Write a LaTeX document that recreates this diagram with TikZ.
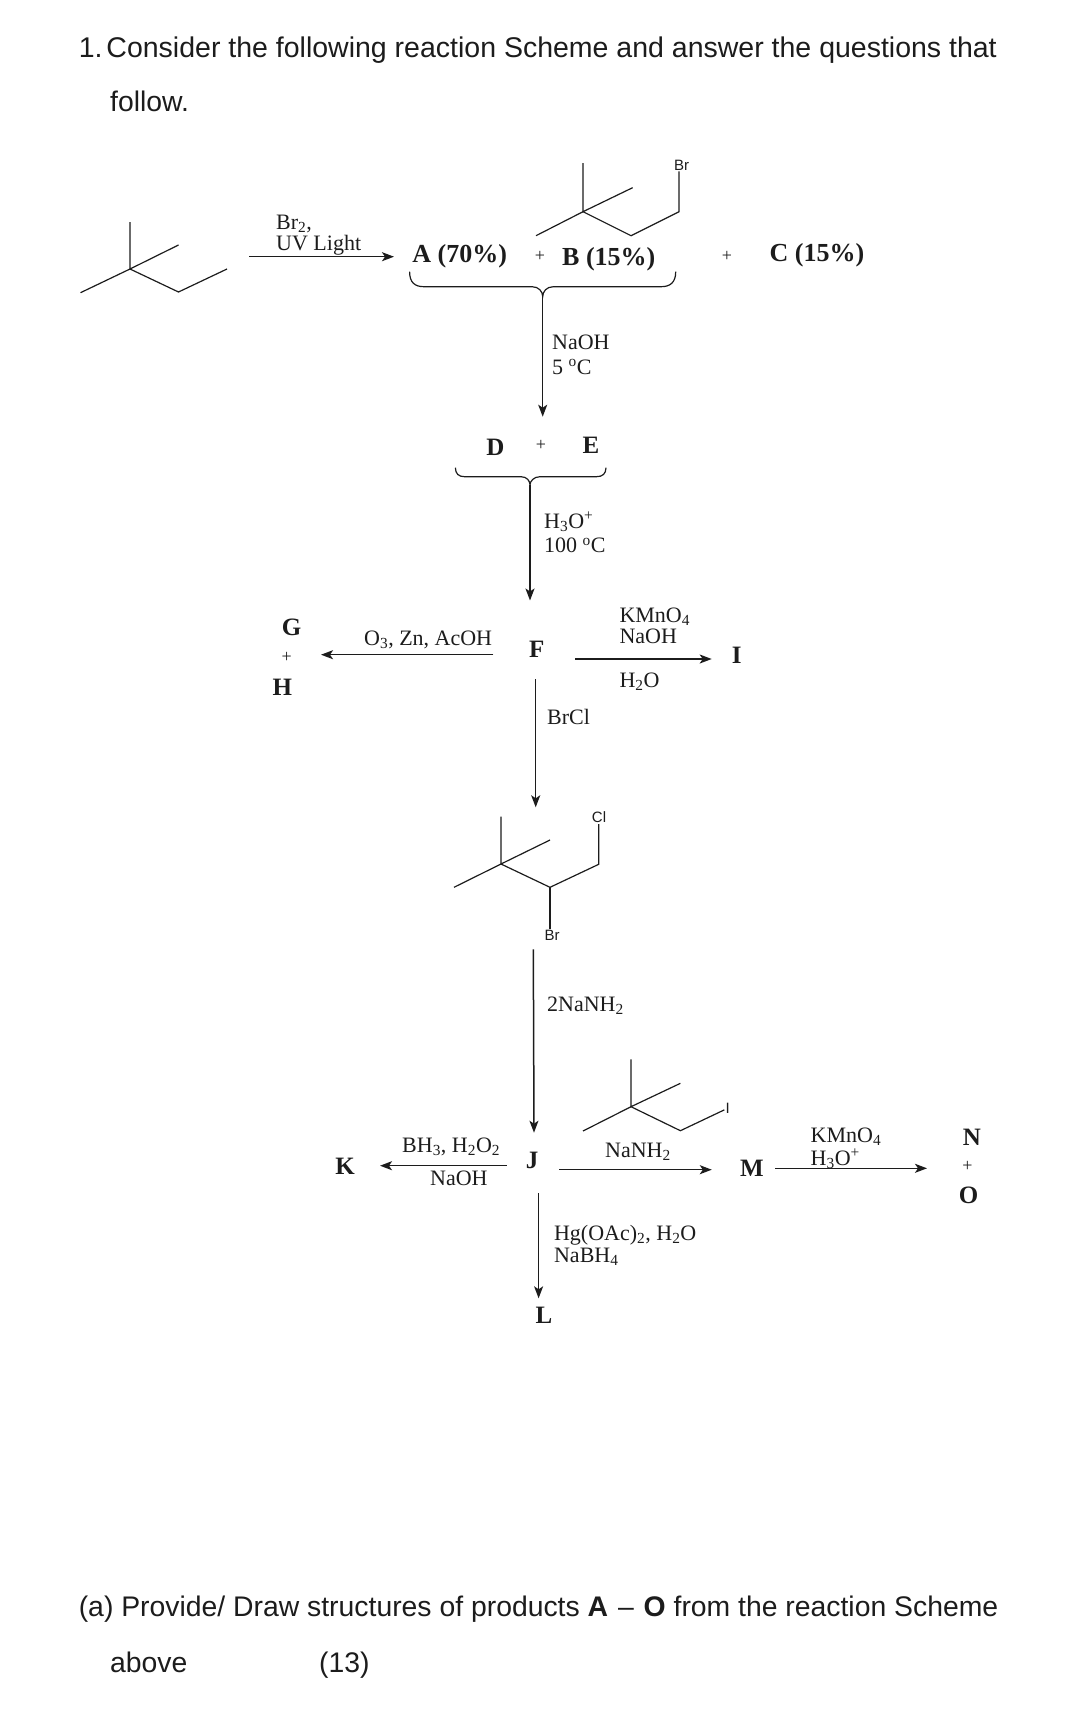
\documentclass[tikz,border=0pt]{standalone}
\usepackage{xcolor}
\usepackage{fontspec}
\usepackage{tikz}
\usetikzlibrary{calc}
\usetikzlibrary{arrows.meta}
\setmainfont{Liberation Sans}
\newfontfamily\chemfont{Liberation Serif}
\definecolor{inkdark}{HTML}{1c1c1c}
\tikzset {
  % question text above and below the scheme
  question/.style = {font=\fontsize{28.35}{30}\selectfont, inner sep=0pt, anchor=base west, text=inkdark},
  % reagents written on the reaction arrows
  reagent/.style = {font=\chemfont\fontsize{22}{24}\selectfont, inner sep=0pt, anchor=base west, text=inkdark},
  % bold product letters
  product/.style = {font=\chemfont\bfseries\fontsize{25}{27}\selectfont, inner sep=0pt, text=inkdark},
  yieldlabel/.style = {product, font=\chemfont\bfseries\fontsize{26}{28}\selectfont},
  plus/.style = {font=\chemfont\fontsize{18}{20}\selectfont, inner sep=0pt, text=inkdark},
  % atom labels on the skeletal formulas
  atom/.style = {font=\fontsize{15}{16}\selectfont, inner sep=1pt, text=inkdark},
  bond/.style = {inkdark, line width=1.2pt},
  rxn/.style = {inkdark, line width=1.5pt, -{Stealth[length=12pt,width=9pt,inset=3pt]}},
}
\begin{document}
\begin{tikzpicture}[x=1pt, y=-1pt]
  \useasboundingbox (0,0) rectangle (1080,1713);

  \node[question, font=\fontsize{28.5}{30}\selectfont] (q1) at (78.6,57) {1.\kern-4pt\ Consider the following reaction Scheme and answer the questions that};
  \node[question] (q2) at (110,111) {follow.};
  \node[question] (q3) at (78.6,1616) {(a) Provide/ Draw structures of products \textbf{A} \kern2pt-- \kern2pt\textbf{O} from the reaction Scheme};
  \node[question] (q4) at (110,1672) {above};
  \node[question] (q5) at (319,1672) {(13)};

  % products
  \node[yieldlabel] (A) at (459.7,256) {A (70\%)};
  \node[plus] (pab) at (540,256) {+};
  \node[yieldlabel] (B) at (608.8,259) {B (15\%)};
  \node[plus] (pbc) at (727,256) {+};
  \node[yieldlabel] (C) at (817,255) {C (15\%)};
  \node[product] (D) at (495.5,447) {D};
  \node[plus] (pde) at (541,445) {+};
  \node[product] (E) at (591,445) {E};
  \node[product] (F) at (536.7,649.3) {F};
  \node[product] (G) at (291.7,627.7) {G};
  \node[plus] (pgh) at (286.7,657.7) {+};
  \node[product] (H) at (282.3,687.7) {H};
  \node[product] (I) at (736.7,655) {I};
  \node[product] (J) at (532,1160) {J};
  \node[product] (K) at (345,1166) {K};
  \node[product] (L) at (544,1315.7) {L};
  \node[product] (M) at (752,1168) {M};
  \node[product] (N) at (972,1137.3) {N};
  \node[plus] (pno) at (967.4,1166.7) {+};
  \node[product] (O) at (968.7,1195.7) {O};

  % reagents
  \node[reagent] (r1) at (276,229) {Br\textsubscript{2},};
  \node[reagent] (r2) at (276,250) {UV Light};
  \node[reagent] (r3) at (552,349) {NaOH};
  \node[reagent] (r4) at (552,374) {5 \textsuperscript{o}C};
  \node[reagent] (r5) at (544,528) {H\textsubscript{3}O\textsuperscript{+}};
  \node[reagent] (r6) at (544,552.7) {100 \textsuperscript{o}C};
  \node[reagent] (r7) at (364,645) {O\textsubscript{3}, Zn, AcOH};
  \node[reagent] (r8) at (619.3,622) {KMnO\textsubscript{4}};
  \node[reagent] (r9) at (619.3,643.7) {NaOH};
  \node[reagent] (r10) at (619.3,687.7) {H\textsubscript{2}O};
  \node[reagent] (r11) at (547,724.7) {BrCl};
  \node[reagent] (r12) at (547,1011) {2NaNH\textsubscript{2}};
  \node[reagent] (r13) at (402,1152.7) {BH\textsubscript{3}, H\textsubscript{2}O\textsubscript{2}};
  \node[reagent] (r14) at (430,1185) {NaOH};
  \node[reagent] (r15) at (605,1157) {NaNH\textsubscript{2}};
  \node[reagent] (r16) at (810.5,1142) {KMnO\textsubscript{4}};
  \node[reagent] (r17) at (810.5,1165) {H\textsubscript{3}O\textsuperscript{+}};
  \node[reagent] (r18) at (553.9,1240) {Hg(OAc)\textsubscript{2}, H\textsubscript{2}O};
  \node[reagent] (r19) at (553.9,1262) {NaBH\textsubscript{4}};

  % starting alkane
  \coordinate (m1c) at (130,269);
  \coordinate (m1a) at (130,222);
  \coordinate (m1b) at (178.5,245);
  \coordinate (m1l) at (80.5,292.7);
  \coordinate (m1d) at (178.5,292);
  \coordinate (m1e) at (227,269);
  \draw[bond] (m1a) -- (m1c) -- (m1b);
  \draw[bond] (m1l) -- (m1c) -- (m1d) -- (m1e);

  % bromide B
  \node[atom] (brm2) at (681.7,165) {Br};
  \coordinate (m2c) at (583,211.7);
  \coordinate (m2a) at (583,163);
  \coordinate (m2b) at (632.6,187.7);
  \coordinate (m2l) at (536,235.7);
  \coordinate (m2d) at (631,235.7);
  \coordinate (m2e) at (679,211.7);
  \draw[bond] (m2a) -- (m2c) -- (m2b);
  \draw[bond] (m2l) -- (m2c) -- (m2d) -- (m2e) -- (m2e |- brm2.south);

  % bromochloride
  \node[atom] (clm3) at (599,817.3) {Cl};
  \node[atom] (brm3) at (552,935) {Br};
  \coordinate (m3c) at (501,864);
  \coordinate (m3a) at (501,816.7);
  \coordinate (m3b) at (550,840);
  \coordinate (m3l) at (454,887.3);
  \coordinate (m3d) at (550,887.3);
  \coordinate (m3e) at (598.7,864.3);
  \draw[bond] (m3a) -- (m3c) -- (m3b);
  \draw[bond] (m3l) -- (m3c) -- (m3d) -- (m3e) -- (m3e |- clm3.south);
  \draw[bond] (m3d) -- (m3d |- brm3.north);

  % iodide
  \node[atom] (im4) at (727.6,1108.3) {I};
  \coordinate (m4c) at (631,1106.7);
  \coordinate (m4a) at (631,1059.3);
  \coordinate (m4b) at (680.4,1083.3);
  \coordinate (m4l) at (583,1131);
  \coordinate (m4d) at (680.4,1130.7);
  \draw[bond] (m4a) -- (m4c) -- (m4b);
  \draw[bond] (m4l) -- (m4c) -- (m4d) -- (im4);

  % braces
  \coordinate (b1l) at (409.6,271.7);
  \coordinate (b1a) at (424,286.7);
  \coordinate (b1b) at (532,286.7);
  \coordinate (b1t) at (542.7,296.7);
  \coordinate (b1c) at (553.4,286.7);
  \coordinate (b1d) at (661,286.7);
  \coordinate (b1r) at (675.7,271.7);
  \draw[bond] (b1l) .. controls +(0,11) and +(-9,0) .. (b1a) -- (b1b)
    .. controls +(7,0) and +(0,-5) .. (b1t) .. controls +(0,-5) and +(-7,0) .. (b1c)
    -- (b1d) .. controls +(9,0) and +(0,11) .. (b1r);
  \coordinate (b2l) at (455.4,467.7);
  \coordinate (b2a) at (464.6,476.7);
  \coordinate (b2b) at (521,476.7);
  \coordinate (b2t) at (530,485);
  \coordinate (b2c) at (540,476.7);
  \coordinate (b2d) at (596.5,476.7);
  \coordinate (b2r) at (606,467.7);
  \draw[bond] (b2l) .. controls +(0,6) and +(-6,0) .. (b2a) -- (b2b)
    .. controls +(6,0) and +(0,-4) .. (b2t) .. controls +(0,-4) and +(-6,0) .. (b2c)
    -- (b2d) .. controls +(6,0) and +(0,6) .. (b2r);

  % reaction arrows
  \draw[rxn] ($(m1e)+(22,-12.3)$) -- ($(A)+(-65.7,0.7)$);
  \draw[rxn] (b1t) -- ($(pde)+(1.7,-28.3)$);
  \draw[rxn] (b2t) -- ($(F)+(-6.7,-48.8)$);
  \draw[rxn] ($(F)+(-43.4,5.4)$) -- ($(pgh)+(34.3,-3)$);
  \draw[rxn] ($(F)+(38.3,9.7)$) -- ($(I)+(-25,4)$);
  \draw[rxn] ($(F)+(-1,30)$) -- ($(m3a)+(34.7,-9.4)$);
  \draw[rxn] ($(brm3)+(-18.7,14.3)$) -- ($(J)+(2,-27.3)$);
  \draw[rxn] ($(J)+(-25.3,5.7)$) -- ($(K)+(35,-0.3)$);
  \draw[rxn] ($(J)+(27,9.7)$) -- ($(M)+(-40.2,1.7)$);
  \draw[rxn] ($(M)+(23,0.3)$) -- ($(pno)+(-40.4,1.6)$);
  \draw[rxn] ($(J)+(6.6,33.3)$) -- ($(L)+(-5.4,-17.4)$);
\end{tikzpicture}
\end{document}
